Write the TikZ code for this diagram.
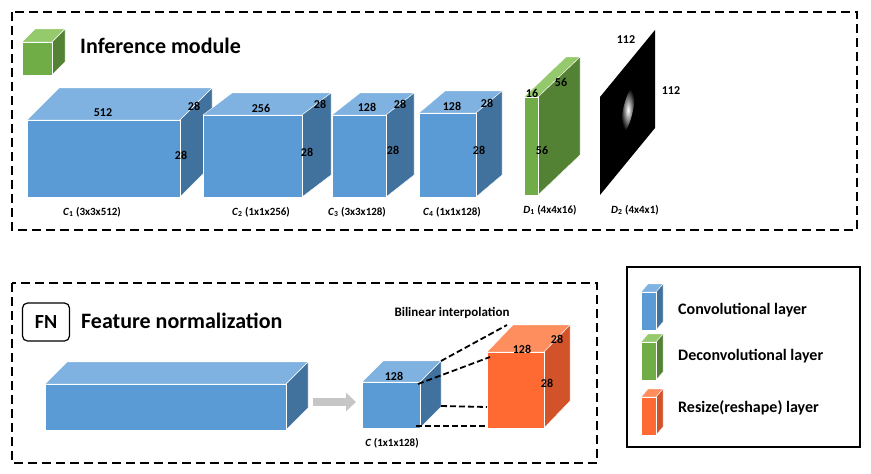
\documentclass[tikz,border=0pt]{standalone}
\usepackage{fontspec}
\setmainfont{Carlito}
\usetikzlibrary{arrows.meta}
\definecolor{bF}{HTML}{5B9BD5}\definecolor{bT}{HTML}{7FB2E0}\definecolor{bS}{HTML}{41729E}
\definecolor{gF}{HTML}{70AD47}\definecolor{gT}{HTML}{94C96C}\definecolor{gS}{HTML}{548235}
\definecolor{oF}{HTML}{FF6A33}\definecolor{oT}{HTML}{FF8E5E}\definecolor{oS}{HTML}{D2522A}
\newcommand{\cuboid}[8]{% x1 y1 x2 y2 dx dy colorprefix name
 \fill[#7T,draw=white,line width=0.4pt] (#1,#2) -- (#1+#5,#2+#6) -- (#3+#5,#2+#6) -- (#3,#2) -- cycle;
 \fill[#7S,draw=white,line width=0.4pt] (#3,#2) -- (#3+#5,#2+#6) -- (#3+#5,#4+#6) -- (#3,#4) -- cycle;
 \fill[#7F,draw=white,line width=0.4pt] (#1,#2) rectangle (#3,#4);
 \coordinate (#8) at (#1,#2);}
\newcommand{\bi}[1]{\textbf{\textit{#1}}}
\tikzset{lbl/.style={font=\bfseries\fontsize{12}{14}\selectfont,inner sep=0pt},
 captxt/.style={font=\bfseries\fontsize{11}{13}\selectfont,inner sep=0pt},
 big/.style={font=\bfseries\fontsize{22}{26}\selectfont,inner sep=0pt,anchor=west},
 leg/.style={font=\bfseries\fontsize{16}{19}\selectfont,inner sep=0pt,anchor=west},
 frame/.style={draw,line width=1.8pt,dash pattern=on 9pt off 5pt},
 link/.style={line width=1.8pt,dash pattern=on 6pt off 3pt}}
\begin{document}
\begin{tikzpicture}[x=1pt,y=-1pt]
\useasboundingbox (0,0) rectangle (871,474);
\draw[frame] (12,12) rectangle (857,230);
\cuboid{22}{42}{52}{75}{13}{-13}{g}{icon}
\node[big] (t1) at (80,46) {Inference module};
\cuboid{27}{120}{180}{197}{32}{-32}{b}{c1}
\cuboid{203}{115}{302}{197}{29}{-22}{b}{c2}
\cuboid{332}{115}{386}{197}{28}{-22}{b}{c3}
\cuboid{419}{113}{476}{197}{26}{-22}{b}{c4}
\cuboid{524}{97}{538}{195}{42}{-40}{g}{d1}
\fill[black] (600,97) -- (655,30) -- (655,128) -- (600,195) -- cycle;
\begin{scope}[shift={(628,110)},rotate=-12]
\shade[inner color=white,outer color=black,shading=radial] (0,0) ellipse (5 and 22);
\end{scope}
\node[lbl] (l1) at (103,113) {512};
\node[lbl] (l2) at (194,106) {28};
\node[lbl] (l3) at (181,155) {28};
\node[lbl] (l4) at (261,108) {256};
\node[lbl] (l5) at (320,104) {28};
\node[lbl] (l6) at (307,152) {28};
\node[lbl] (l7) at (367,107) {128};
\node[lbl] (l8) at (400,104) {28};
\node[lbl] (l9) at (393,150) {28};
\node[lbl] (l10) at (452,106) {128};
\node[lbl] (l11) at (487,103) {28};
\node[lbl] (l12) at (479,150) {28};
\node[lbl] (l13) at (532,93) {16};
\node[lbl] (l14) at (561,82) {56};
\node[lbl] (l15) at (542,150) {56};
\node[lbl] (l16) at (626,40) {112};
\node[lbl] (l17) at (671,91) {112};
\node[captxt] (k1) at (92,212) {\bi{C}\textsubscript{1} (3x3x512)};
\node[captxt] (k2) at (261,212) {\bi{C}\textsubscript{2} (1x1x256)};
\node[captxt] (k3) at (357,212) {\bi{C}\textsubscript{3} (3x3x128)};
\node[captxt] (k4) at (452,212) {\bi{C}\textsubscript{4} (1x1x128)};
\node[captxt] (k5) at (550,210) {\bi{D}\textsubscript{1} (4x4x16)};
\node[captxt] (k6) at (635,210) {\bi{D}\textsubscript{2} (4x4x1)};
\draw[frame] (12,283) rectangle (597,463);
\node[draw,rounded corners=5pt,line width=1.2pt,minimum width=47pt,minimum height=38pt,font=\bfseries\fontsize{20}{24}\selectfont] (fn) at (46,322) {FN};
\node[big] (t2) at (81,321) {Feature normalization};
\cuboid{45}{384}{286}{430}{22}{-22}{b}{big}
\draw[-{Triangle[length=10pt,width=18pt]},line width=8pt,gray!45] (313,402) -- (356,402);
\cuboid{362}{382}{420}{428}{21}{-21}{b}{cc}
\cuboid{487}{352}{544}{428}{26}{-27}{o}{oo}
\node[lbl] (m1) at (394,376) {128};
\node[lbl] (m2) at (522,349) {128};
\node[lbl] (m3) at (557,339) {28};
\node[lbl] (m4) at (547,383) {28};
\coordinate (p1) at (441,361); \coordinate (q1) at (507,325);
\coordinate (p2) at (418,384); \coordinate (q2) at (490,357);
\coordinate (p3) at (441,406); \coordinate (q3) at (487,407);
\coordinate (p4) at (416,426); \coordinate (q4) at (487,426);
\foreach \i in {1,...,4} \draw[link] (p\i) -- (q\i);
\node[lbl,font=\bfseries\fontsize{13}{15}\selectfont] (bil) at (452,313) {Bilinear interpolation};
\node[captxt] (kc) at (392,443) {\bi{C} (1x1x128)};
\draw[line width=1.2pt] (627,267) rectangle (860,447);
\cuboid{641}{292}{656}{330}{7}{-8}{b}{e1}
\cuboid{641}{342}{656}{380}{7}{-8}{g}{e2}
\cuboid{641}{397}{656}{435}{7}{-8}{o}{e3}
\node[leg] (n1) at (678,310) {Convolutional layer};
\node[leg] (n2) at (678,356) {Deconvolutional layer};
\node[leg] (n3) at (678,408) {Resize(reshape) layer};
\end{tikzpicture}
\end{document}
